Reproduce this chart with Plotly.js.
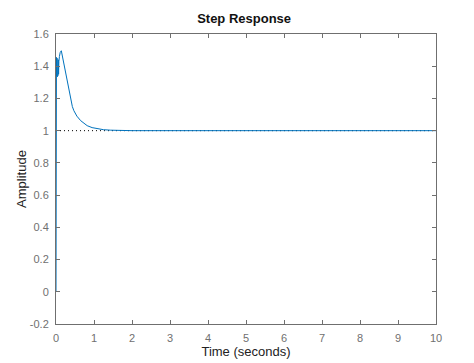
<!DOCTYPE html>
<html>
<head>
<meta charset="utf-8">
<script src="https://cdn.plot.ly/plotly-3.0.1.min.js"></script>
<style>html,body{margin:0;padding:0;background:#fff;}#chart{width:474px;height:363px;}</style>
</head>
<body>
<div id="chart"></div>
<script>
// Step response
const timeSec = [0, 0.004, 0.012, 0.02, 0.028, 0.036, 0.044, 0.052, 0.06, 0.068, 0.076, 0.09, 0.11, 0.14, 0.17, 0.21, 0.25, 0.30, 0.35, 0.39, 0.43, 0.47, 0.55, 0.65, 0.73, 0.82, 0.95, 1.09, 1.25, 1.44, 1.7, 2.0, 2.5, 3, 4, 5, 6, 7, 8, 9, 10];
const amplitude = [0, 1.2, 1.455, 1.34, 1.45, 1.335, 1.445, 1.34, 1.44, 1.35, 1.43, 1.46, 1.485, 1.496, 1.46, 1.414, 1.36, 1.29, 1.23, 1.186, 1.15, 1.124, 1.09, 1.062, 1.045, 1.031, 1.019, 1.011, 1.006, 1.003, 1.001, 1.0, 1.0, 1.0, 1.0, 1.0, 1.0, 1.0, 1.0, 1.0, 1.0];
const finalTime = [0, 10];
const finalValue = [1, 1];
const xTicks = [0, 1, 2, 3, 4, 5, 6, 7, 8, 9, 10];
const yTicks = [-0.2, 0, 0.2, 0.4, 0.6, 0.8, 1, 1.2, 1.4, 1.6];
const yTickText = ['-0.2', '0', '0.2', '0.4', '0.6', '0.8', '1', '1.2', '1.4', '1.6'];

const font = 'Liberation Sans, Arial, Helvetica, sans-serif';
const axisColor = '#6f6f6f';

const traces = [
  {x: finalTime, y: finalValue, mode: 'lines', line: {color: '#000', width: 1, dash: '1px,3px'}, hoverinfo: 'skip'},
  {x: timeSec, y: amplitude, mode: 'lines', line: {color: '#0072BD', width: 1}}
];

const axisCommon = {
  showgrid: false, zeroline: false, showline: true, linecolor: axisColor, linewidth: 1,
  mirror: 'ticks', ticks: 'inside', ticklen: 4, tickcolor: axisColor, tickwidth: 1,
  ticklabelstandoff: 4,
  tickfont: {family: font, size: 11, color: '#707070'}
};

const layout = {
  width: 474, height: 363,
  margin: {l: 56, r: 38, t: 34, b: 39, pad: 0},
  paper_bgcolor: '#fff', plot_bgcolor: '#fff',
  showlegend: false,
  title: {text: '<b>Step Response</b>', font: {family: font, size: 13, color: '#111'},
          x: 0.495, xref: 'paper', xanchor: 'center', y: 1 - 18 / 363, yref: 'container', yanchor: 'middle'},
  xaxis: Object.assign({}, axisCommon, {range: [0, 10], tickvals: xTicks, ticktext: xTicks.map(String),
    title: {text: 'Time (seconds)', font: {family: font, size: 13, color: '#222'}, standoff: 3}}),
  yaxis: Object.assign({}, axisCommon, {range: [-0.2, 1.6], tickvals: yTicks, ticktext: yTickText,
    title: {text: 'Amplitude', font: {family: font, size: 13, color: '#222'}, standoff: 0}})
};

Plotly.newPlot('chart', traces, layout, {displayModeBar: false, staticPlot: true});
</script>
</body>
</html>
